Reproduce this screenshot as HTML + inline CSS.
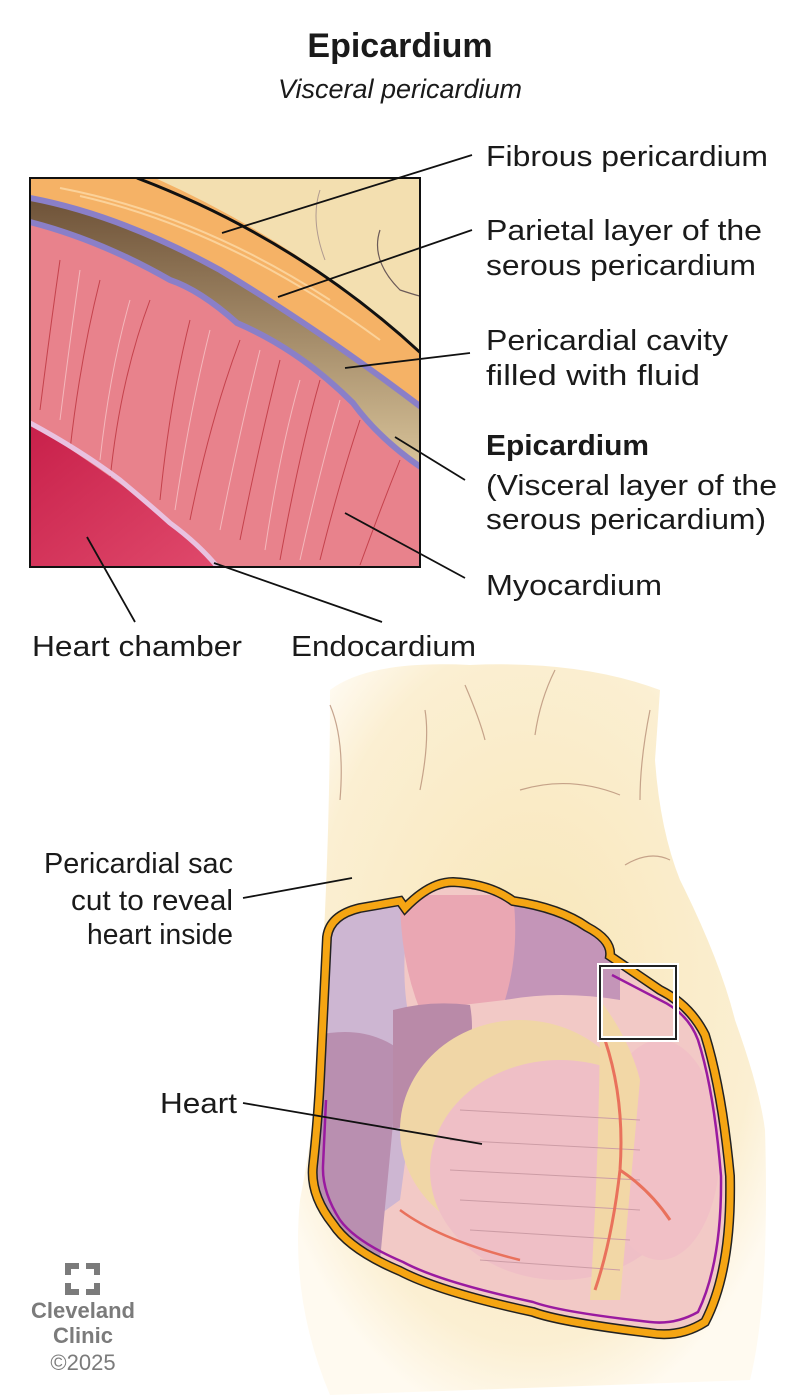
<!DOCTYPE html>
<html><head><meta charset="utf-8"><style>
html,body{margin:0;padding:0;background:#fff}
svg{display:block}
text{font-family:"Liberation Sans",sans-serif;fill:#1a1a1a}
</style></head><body>
<svg width="800" height="1398" viewBox="0 0 800 1398" xmlns="http://www.w3.org/2000/svg">
<defs>
<clipPath id="inset"><rect x="30" y="178" width="390" height="389"/></clipPath>
<clipPath id="heart"><path d="M327,937 Q330,915 360,908 L400,901 L405,908 Q430,882 453,882 Q490,884 513,901 Q560,908 587,927 Q612,940 610,956 L660,990 Q690,1005 705,1035 Q722,1090 730,1176 Q732,1270 705,1322 Q680,1338 650,1333 Q560,1322 533,1312 Q440,1292 400,1271 Q350,1250 333,1224 Q310,1195 313,1166 Q318,1120 320,1080 Z"/></clipPath>
<radialGradient id="bg" cx="0.5" cy="0.45" r="0.6"><stop offset="0" stop-color="#f8e6b8"/><stop offset="0.8" stop-color="#fbefd2"/><stop offset="1" stop-color="#fffaf0"/></radialGradient>
<linearGradient id="cav" x1="0" y1="0" x2="0" y2="1"><stop offset="0" stop-color="#6e5238"/><stop offset="1" stop-color="#d9c49a"/></linearGradient>
<linearGradient id="cham" x1="0" y1="0" x2="1" y2="1"><stop offset="0" stop-color="#c8204a"/><stop offset="1" stop-color="#e04a6c"/></linearGradient>
</defs>

<text x="400" y="57" text-anchor="middle" font-size="34" font-weight="bold">Epicardium</text>
<text x="400" y="98" text-anchor="middle" font-size="27" font-style="italic">Visceral pericardium</text>

<g clip-path="url(#inset)">
<rect x="30" y="178" width="390" height="389" fill="#f3dfb0"/>
<path d="M380,230 Q370,260 400,290 Q430,300 440,300" fill="none" stroke="#6b5a58" stroke-width="1.2"/>
<path d="M320,190 Q310,220 325,260" fill="none" stroke="#b09a90" stroke-width="1"/>
<path d="M20,170 L137,170 Q300,240 425,356 L425,410 Q320,330 220,270 Q120,215 30,198 L20,198 Z" fill="#f5b266"/>
<path d="M60,188 Q200,215 330,300 M80,196 Q230,230 380,340" fill="none" stroke="#fbd29a" stroke-width="2"/>
<path d="M137,178 Q300,240 425,357" fill="none" stroke="#111" stroke-width="3"/>
<path d="M30,198 Q120,215 220,270 Q320,330 425,410 L425,470 Q380,440 353,403 Q300,350 237,323 Q200,290 170,280 Q100,240 30,222 Z" fill="url(#cav)"/>
<path d="M30,198 Q120,215 220,270 Q320,330 425,410" fill="none" stroke="#8a7fc8" stroke-width="6"/>
<path d="M30,222 Q100,240 170,280 Q200,290 237,323 Q300,350 353,403 Q380,440 425,470 L425,570 L220,570 Q207,553 170,523 Q120,480 30,423 Z" fill="#e8828c"/>
<path d="M30,222 Q100,240 170,280 Q200,290 237,323 Q300,350 353,403 Q380,440 425,470" fill="none" stroke="#8a7fc8" stroke-width="6"/>
<g stroke="#b52630" stroke-width="1" fill="none" opacity="0.7">
<path d="M60,260 Q50,330 40,410 M100,280 Q80,360 70,450 M150,300 Q120,380 110,480 M190,320 Q170,400 160,500 M240,340 Q210,420 190,520 M280,360 Q260,440 240,540 M320,380 Q300,450 280,560 M360,420 Q340,480 320,560 M400,460 Q380,510 360,565"/>
</g>
<g stroke="#f6c6c8" stroke-width="1" fill="none" opacity="0.8">
<path d="M80,270 Q70,340 60,420 M130,300 Q110,370 100,460 M210,330 Q190,410 175,510 M260,350 Q240,430 220,530 M300,380 Q280,450 265,550 M340,400 Q320,470 300,560"/>
</g>
<path d="M30,423 Q120,480 170,523 Q207,553 220,570 L30,570 Z" fill="url(#cham)"/>
<path d="M30,423 Q80,450 120,480 Q150,505 170,523 Q200,545 220,570" fill="none" stroke="#e9c2e0" stroke-width="5"/>
</g>
<rect x="30" y="178" width="390" height="389" fill="none" stroke="#111" stroke-width="2"/>

<g font-size="29" lengthAdjust="spacingAndGlyphs">
<text x="486" y="166" textLength="282" lengthAdjust="spacingAndGlyphs">Fibrous pericardium</text>
<text x="486" y="240" textLength="276" lengthAdjust="spacingAndGlyphs">Parietal layer of the</text>
<text x="486" y="275" textLength="270" lengthAdjust="spacingAndGlyphs">serous pericardium</text>
<text x="486" y="350" textLength="242" lengthAdjust="spacingAndGlyphs">Pericardial cavity</text>
<text x="486" y="385" textLength="214" lengthAdjust="spacingAndGlyphs">filled with fluid</text>
<text x="486" y="455" font-weight="bold" textLength="163" lengthAdjust="spacingAndGlyphs">Epicardium</text>
<text x="486" y="495" textLength="291" lengthAdjust="spacingAndGlyphs">(Visceral layer of the</text>
<text x="486" y="529" textLength="280" lengthAdjust="spacingAndGlyphs">serous pericardium)</text>
<text x="486" y="595" textLength="176" lengthAdjust="spacingAndGlyphs">Myocardium</text>
<text x="32" y="656" textLength="210" lengthAdjust="spacingAndGlyphs">Heart chamber</text>
<text x="291" y="656" textLength="185" lengthAdjust="spacingAndGlyphs">Endocardium</text>
</g>
<g stroke="#111" stroke-width="1.8" fill="none">
<path d="M472,155 L222,233 M472,230 L278,297 M470,353 L345,368 M465,480 L395,437 M465,578 L345,513 M135,622 L87,537 M382,622 L214,563"/>
</g>

<path d="M330,690 Q370,660 470,665 Q580,660 660,690 L655,760 Q660,830 680,880 Q720,960 735,1020 Q760,1090 765,1130 Q770,1300 750,1380 L330,1395 Q290,1300 300,1200 Q320,1100 320,1000 Q330,850 330,690 Z" fill="url(#bg)"/>
<g stroke="#b89078" stroke-width="1.2" fill="none" opacity="0.8">
<path d="M330,705 Q345,740 340,800 M465,685 Q480,720 485,740 M555,670 Q540,700 535,735 M425,710 Q430,740 420,790 M650,710 Q640,760 640,800 M520,790 Q570,775 620,795 M625,865 Q650,850 670,860"/>
</g>

<g clip-path="url(#heart)">
<rect x="300" y="870" width="440" height="480" fill="#f2c9c6"/>
<path d="M327,900 L410,900 Q395,1000 420,1050 L400,1200 L330,1250 Z" fill="#cdb6d2"/>
<path d="M300,1040 Q360,1020 400,1050 L380,1260 L300,1260 Z" fill="#b98fb0"/>
<path d="M400,895 L515,895 Q520,960 505,1000 L420,1010 Q400,960 400,895 Z" fill="#eaa7b3"/>
<path d="M513,895 L620,920 L620,1000 Q560,990 505,1000 Q520,950 513,895 Z" fill="#c495b8"/>
<path d="M393,1010 Q430,1000 470,1005 Q480,1060 440,1100 Q410,1130 393,1128 Z" fill="#b98aa8"/>
<ellipse cx="520" cy="1130" rx="120" ry="110" fill="#f0d6a6"/>
<ellipse cx="560" cy="1170" rx="130" ry="110" fill="#efbfc6"/>
<ellipse cx="660" cy="1150" rx="60" ry="110" fill="#f1c0c6"/>
<path d="M600,1000 Q630,1040 640,1080 L620,1300 L590,1300 Q600,1150 600,1000 Z" fill="#f2d7a6"/>
<g stroke="#cc9ca5" stroke-width="1" fill="none">
<path d="M460,1110 L640,1120 M450,1140 L640,1150 M450,1170 L640,1180 M460,1200 L640,1210 M470,1230 L630,1240 M480,1260 L620,1270"/>
</g>
<path d="M605,1040 Q625,1100 620,1170 Q612,1240 595,1290 M620,1170 Q650,1190 670,1220" fill="none" stroke="#e9715c" stroke-width="3"/>
<path d="M400,1210 Q440,1240 520,1260" fill="none" stroke="#e9715c" stroke-width="2.5"/>
</g>
<path d="M327,937 Q330,915 360,908 L400,901 L405,908 Q430,882 453,882 Q490,884 513,901 Q560,908 587,927 Q612,940 610,956 L660,990 Q690,1005 705,1035 Q722,1090 730,1176 Q732,1270 705,1322 Q680,1338 650,1333 Q560,1322 533,1312 Q440,1292 400,1271 Q350,1250 333,1224 Q310,1195 313,1166 Q318,1120 320,1080 Z" fill="none" stroke="#222" stroke-width="10"/>
<path d="M327,937 Q330,915 360,908 L400,901 L405,908 Q430,882 453,882 Q490,884 513,901 Q560,908 587,927 Q612,940 610,956 L660,990 Q690,1005 705,1035 Q722,1090 730,1176 Q732,1270 705,1322 Q680,1338 650,1333 Q560,1322 533,1312 Q440,1292 400,1271 Q350,1250 333,1224 Q310,1195 313,1166 Q318,1120 320,1080 Z" fill="none" stroke="#f5a513" stroke-width="7"/>
<path d="M612,975 L660,1000 Q688,1013 698,1040 Q714,1090 721,1176 Q722,1262 698,1312 Q675,1325 650,1322 Q560,1312 533,1302 Q440,1282 403,1262 Q356,1242 340,1220 Q322,1192 323,1166 L326,1100" fill="none" stroke="#9a1aa0" stroke-width="2.5"/>
<rect x="600" y="966" width="76" height="73" fill="none" stroke="#fff" stroke-width="6"/>
<rect x="600" y="966" width="76" height="73" fill="none" stroke="#222" stroke-width="2"/>

<g font-size="29">
<text x="44" y="873" textLength="189" lengthAdjust="spacingAndGlyphs">Pericardial sac</text>
<text x="71" y="910" textLength="162" lengthAdjust="spacingAndGlyphs">cut to reveal</text>
<text x="87" y="944" textLength="146" lengthAdjust="spacingAndGlyphs">heart inside</text>
<text x="160" y="1113" textLength="77" lengthAdjust="spacingAndGlyphs">Heart</text>
</g>
<path d="M243,898 L352,878 M243,1103 L482,1144" stroke="#111" stroke-width="1.8" fill="none"/>

<g fill="#7b7b7b">
<path d="M65,1263 h14 v6 h-8 v6 h-6 z M86,1263 h14 v12 h-6 v-6 h-8 z M65,1283 h6 v6 h8 v6 h-14 z M94,1283 h6 v12 h-14 v-6 h8 z"/>
</g>
<g font-size="22" font-weight="bold" text-anchor="middle">
<text x="83" y="1318" style="fill:#7b7b7b">Cleveland</text>
<text x="83" y="1343" style="fill:#7b7b7b">Clinic</text>
</g>
<text x="83" y="1370" font-size="22" text-anchor="middle" style="fill:#7b7b7b">©2025</text>
</svg>
</body></html>
